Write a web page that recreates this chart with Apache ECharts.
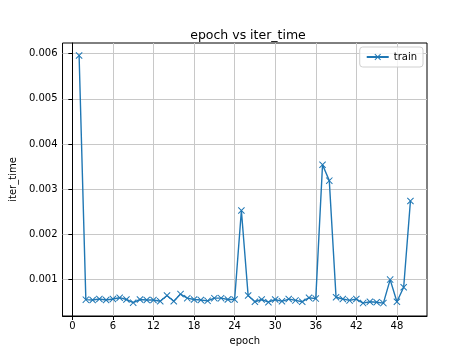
<!DOCTYPE html>
<html>
<head>
<meta charset="utf-8">
<script src="https://cdn.jsdelivr.net/npm/echarts@6/dist/echarts.min.js"></script>
<style>html,body{margin:0;padding:0;background:#fff}#c{width:474px;height:355px}</style>
</head>
<body>
<div id="c"></div>
<script>
const epochs = [1,2,3,4,5,6,7,8,9,10,11,12,13,14,15,16,17,18,19,20,21,22,23,24,25,26,27,28,29,30,31,32,33,34,35,36,37,38,39,40,41,42,43,44,45,46,47,48,49,50];
const iterTime = [0.00596,0.000557,0.00055,0.00057,0.00055,0.00057,0.0006,0.00056,0.00049,0.00056,
  0.00055,0.00055,0.00052,0.00065,0.00052,0.00068,0.00059,0.00056,0.00055,0.00053,
  0.00059,0.00059,0.00056,0.00056,0.00253,0.00065,0.00051,0.00056,0.0005,0.00056,
  0.00052,0.00057,0.00054,0.00051,0.0006,0.00058,0.00354,0.00319,0.00061,0.00057,
  0.00054,0.00057,0.00048,0.00051,0.0005,0.00048,0.001,0.00051,0.00083,0.00274];
const xTicks = [0,6,12,18,24,30,36,42,48];
const yTicks = [0.001,0.002,0.003,0.004,0.005,0.006];
const seriesName = 'train';

const FONT = 'DejaVu Sans';
const xMark = 'path://M0,1L1,0L5,4L9,0L10,1L6,5L10,9L9,10L5,6L1,10L0,9L4,5Z';
const chart = echarts.init(document.getElementById('c'), null, {renderer:'canvas'});
chart.setOption({
  animation:false,
  backgroundColor:'#fff',
  title:{text:'epoch vs iter_time',left:243,textAlign:'center',top:24,
    textStyle:{fontFamily:FONT,fontSize:12.5,fontWeight:'normal',color:'#000'}},
  legend:{data:[seriesName],right:51,top:47,orient:'vertical',
    itemWidth:22,itemHeight:8,itemGap:4,padding:[5,6,5,6],
    borderColor:'#d0d0d0',borderWidth:1,borderRadius:3,backgroundColor:'rgba(255,255,255,0.8)',
    textStyle:{fontFamily:FONT,fontSize:10,color:'#000'}},
  grid:{left:59,right:47,top:43,bottom:39,show:true,borderColor:'#000',borderWidth:1,containLabel:false},
  xAxis:{type:'value',min:-1.45,max:52.45,
    name:'epoch',nameLocation:'middle',nameGap:20,
    nameTextStyle:{fontFamily:FONT,fontSize:10,color:'#000'},
    axisLine:{show:true,lineStyle:{color:'#000',width:1}},
    axisTick:{show:true,length:4,customValues:xTicks,lineStyle:{color:'#000'}},
    axisLabel:{customValues:xTicks,fontFamily:FONT,fontSize:10,color:'#000',margin:5},
    splitLine:{show:true,lineStyle:{color:'#c8c8c8',width:1}}},
  yAxis:{type:'value',min:0.000195,max:0.006235,
    name:'iter_time',nameLocation:'middle',nameGap:44,nameRotate:90,
    nameTextStyle:{fontFamily:FONT,fontSize:10,color:'#000'},
    axisLine:{show:true,lineStyle:{color:'#000',width:1}},
    axisTick:{show:true,length:4,customValues:yTicks,lineStyle:{color:'#000'}},
    axisLabel:{customValues:yTicks,fontFamily:FONT,fontSize:10,color:'#000',margin:5,
      formatter:v=>v.toFixed(3)},
    splitLine:{show:true,lineStyle:{color:'#c8c8c8',width:1}}},
  series:[{name:seriesName,type:'line',data:epochs.map((e,i)=>[e,iterTime[i]]),
    symbol:xMark,symbolSize:7,showAllSymbol:true,
    lineStyle:{color:'#1f77b4',width:1.4},
    itemStyle:{color:'#1f77b4'}}]
});
</script>
</body>
</html>
